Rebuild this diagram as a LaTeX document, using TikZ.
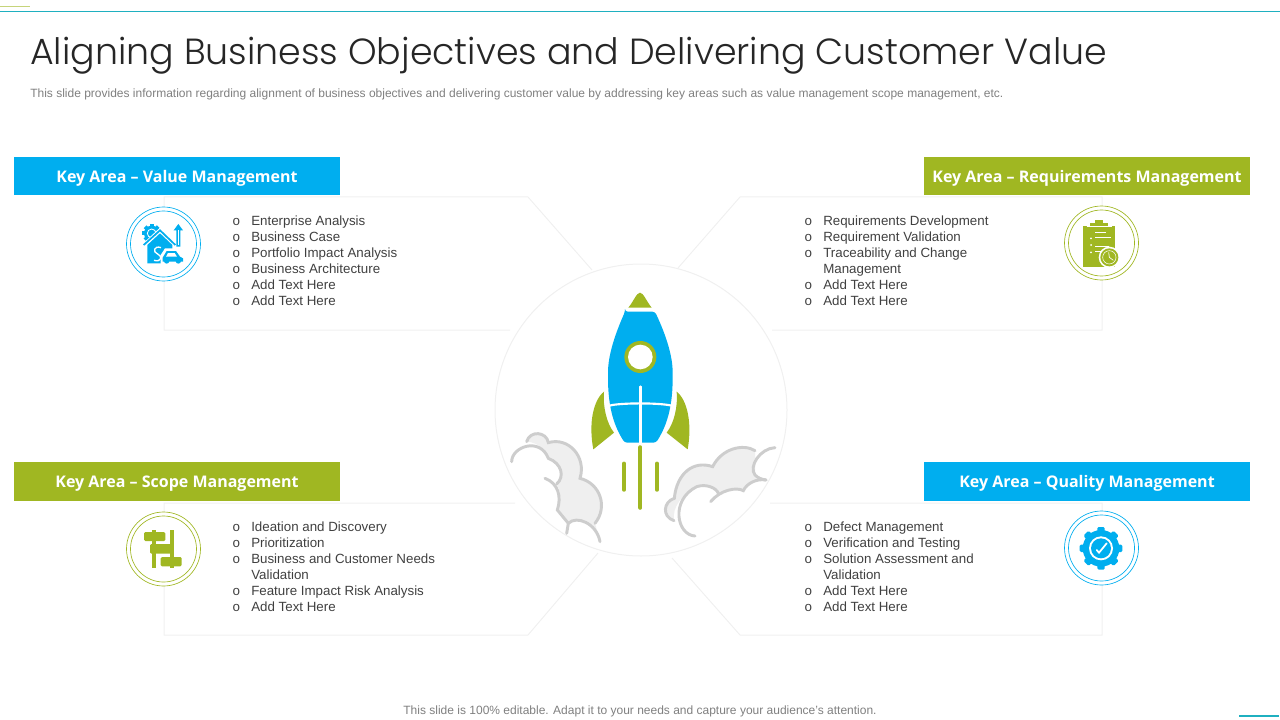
\documentclass[tikz,border=0pt]{standalone}
\usepackage{fontspec}
\setmainfont{Liberation Sans}
\newfontfamily\titlefont{Poppins}[UprightFont=* Light]
\newfontfamily\headfont{Open Sans}
\newfontfamily\bulletfont{Liberation Mono}
\definecolor{skyblue}{HTML}{00AEEF}
\definecolor{leafgreen}{HTML}{A0B722}
\definecolor{panelgray}{HTML}{F0F0F0}
\definecolor{cloudgray}{HTML}{CDCDCD}
\definecolor{cloudfill}{HTML}{EFEFEF}
\definecolor{tealline}{HTML}{1FB0C0}
\definecolor{lighttext}{HTML}{7F7F7F}
\definecolor{listtext}{HTML}{404040}
\newcommand\itm[1]{\bulletfont\fontsize{10}{12}\selectfont o&#1\\}
\newcommand\more[1]{&#1\\}
\newenvironment{keylist}{\fontsize{10}{12}\selectfont\renewcommand\arraystretch{1}\begin{tabular}{@{}p{14.25pt}@{}l@{}}}{\end{tabular}}
\tikzset{
  headbox/.style={minimum width=244.5pt,minimum height=29pt,inner sep=0pt,text=white,text depth=0pt,font=\headfont\bfseries\fontsize{12}{14}\selectfont},
  listbox/.style={anchor=north west,inner sep=0pt,text=listtext},
  panel/.style={draw=panelgray,line width=.75pt},
  ring/.style={draw=#1,line width=.5pt,fill=white},
  cloudline/.style={draw=cloudgray,line width=2.2pt,line cap=round,fill=none}
}
\begin{document}
\begin{tikzpicture}[x=.75pt,y=-.75pt]
\useasboundingbox (0,0) rectangle (1280,720);

% rules at the slide edges
\fill[tealline] (0,11) rectangle (1280,12);
\fill[leafgreen!60] (0,6) rectangle (30,7);
\fill[tealline] (1239,715) rectangle (1279,717);

\node (title) at (30,55.5) [anchor=west,inner sep=0pt,text=black!85] {\titlefont\fontsize{27.27}{32}\selectfont Aligning Business Objectives and Delivering Customer Value};
\node (subtitle) at (30,94) [anchor=west,inner sep=0pt,text=lighttext] {\fontsize{9}{11}\selectfont This slide provides information regarding alignment of business objectives and delivering customer value by addressing key areas such as value management scope management, etc.};
\node (footnote) at (640,711) [inner sep=0pt,text=lighttext] {\fontsize{9}{11}\selectfont This slide is 100\% editable. Adapt it to your needs and capture your audience's attention.};

% panels
\draw[panel] (510,330) -- (164,330) -- (164,197) -- (528,197) -- (592,270);
\draw[panel] (772,330) -- (1102,330) -- (1102,197) -- (740,197) -- (678,268);
\draw[panel] (515,503) -- (164,503) -- (164,635) -- (528,635) -- (598,553);
\draw[panel] (770,503) -- (1102,503) -- (1102,635) -- (740,635) -- (672,558);
\node (hub) at (641,410) [circle,draw=panelgray,line width=.75pt,fill=white,minimum size=219pt,inner sep=0pt] {};

\node (valuehead) at (177,176) [headbox,fill=skyblue] {Key Area – Value Management};
\node (reqhead) at (1087,176) [headbox,fill=leafgreen] {Key Area – Requirements Management};
\node (scopehead) at (177,481.5) [headbox,fill=leafgreen] {Key Area – Scope Management};
\node (qualityhead) at (1087,481.5) [headbox,fill=skyblue] {Key Area – Quality Management};

\node (valuelist) at (232,214) [listbox] {\begin{keylist}
\itm{Enterprise Analysis}
\itm{Business Case}
\itm{Portfolio Impact Analysis}
\itm{Business Architecture}
\itm{Add Text Here}
\itm{Add Text Here}
\end{keylist}};
\node (reqlist) at (804,214) [listbox] {\begin{keylist}
\itm{Requirements Development}
\itm{Requirement Validation}
\itm{Traceability and Change}
\more{Management}
\itm{Add Text Here}
\itm{Add Text Here}
\end{keylist}};
\node (scopelist) at (232,520) [listbox] {\begin{keylist}
\itm{Ideation and Discovery}
\itm{Prioritization}
\itm{Business and Customer Needs}
\more{Validation}
\itm{Feature Impact Risk Analysis}
\itm{Add Text Here}
\end{keylist}};
\node (qualitylist) at (804,520) [listbox] {\begin{keylist}
\itm{Defect Management}
\itm{Verification and Testing}
\itm{Solution Assessment and}
\more{Validation}
\itm{Add Text Here}
\itm{Add Text Here}
\end{keylist}};

% rings of the four icons
\foreach \cx/\cy/\col/\nm in {163.5/244/skyblue/value,1101.5/243/leafgreen/req,163.5/549/leafgreen/scope,1101.5/548/skyblue/quality}{
  \node (\nm ring) at (\cx,\cy) [circle,ring=\col,minimum size=55.5pt,inner sep=0pt] {};
  \node (\nm inner) at (\cx,\cy) [circle,ring=\col,minimum size=49.5pt,inner sep=0pt] {};
}

% rocket and clouds, in thirds of a pixel
\begin{scope}[shift={(480,260)},x=.25pt,y=-.25pt]
\fill[leafgreen] (445,143) .. controls (460,125) and (470,98) .. (480,98) .. controls (490,98) and (500,125) .. (515,143) -- cycle;
\fill[skyblue,rounded corners=2pt] (435,155) -- (525,155) .. controls (560,230) and (578,290) .. (578,345) .. controls (578,430) and (565,490) .. (528,548) -- (434,548) .. controls (397,490) and (384,430) .. (384,345) .. controls (384,290) and (402,230) .. (435,155) -- cycle;
\fill[leafgreen] (372,395) .. controls (340,420) and (325,490) .. (340,568) -- (402,518) .. controls (380,490) and (368,440) .. (372,395) -- cycle;
\fill[leafgreen] (590,395) .. controls (622,420) and (637,490) .. (623,568) -- (560,518) .. controls (582,490) and (594,440) .. (590,395) -- cycle;
\fill[leafgreen] (481,291) circle (48);
\fill[white] (481,291) circle (37);
\draw[white,line width=1.6pt] (388,437) .. controls (420,428) and (540,428) .. (575,437);
\draw[white,line width=2pt,line cap=round] (481,380) -- (481,548);
\draw[leafgreen,line width=3.2pt,line cap=round] (481,562) -- (481,743);
\draw[leafgreen,line width=2.6pt,line cap=round] (432,610) -- (432,690);
\draw[leafgreen,line width=2.6pt,line cap=round] (531,610) -- (531,690);
% left cloud
\fill[cloudfill] (140,545) .. controls (150,510) and (200,515) .. (205,548) .. controls (265,530) and (320,590) .. (300,655) .. controls (360,670) and (385,740) .. (345,790) -- (360,845) .. controls (350,790) and (290,765) .. (265,790) -- (232,750) .. controls (245,710) and (240,690) .. (230,672) .. controls (255,650) and (245,610) .. (205,595) .. controls (195,560) and (160,545) .. (140,545) -- cycle;
\draw[cloudline] (140,545) .. controls (150,510) and (200,515) .. (205,548) .. controls (265,530) and (320,590) .. (300,655) .. controls (360,670) and (385,740) .. (345,790);
\draw[cloudline] (95,605) .. controls (95,560) and (180,530) .. (205,595) .. controls (245,610) and (255,650) .. (230,672);
\draw[cloudline] (195,655) .. controls (235,670) and (245,710) .. (232,750) -- (265,790) -- (260,820);
\draw[cloudline] (265,790) .. controls (290,765) and (350,790) .. (360,845);
% right cloud
\fill[cloudfill] (825,572) .. controls (790,550) and (725,565) .. (698,620) .. controls (640,600) and (590,640) .. (583,715) .. controls (550,725) and (545,770) .. (582,782) .. controls (575,740) and (610,700) .. (650,680) .. controls (680,670) and (710,685) .. (715,700) -- (692,725) .. controls (720,690) and (770,680) .. (790,692) .. controls (800,670) and (830,655) .. (858,660) -- (825,645) -- cycle;
\draw[cloudline] (885,563) .. controls (840,565) and (805,620) .. (825,645) .. controls (835,655) and (845,658) .. (858,660);
\draw[cloudline] (825,572) .. controls (790,550) and (725,565) .. (698,620) .. controls (640,600) and (590,640) .. (583,715) .. controls (550,725) and (545,770) .. (582,782);
\draw[cloudline] (645,828) .. controls (590,825) and (570,720) .. (650,680) .. controls (680,670) and (710,685) .. (715,700);
\draw[cloudline] (692,725) .. controls (720,690) and (770,680) .. (790,692) .. controls (800,670) and (830,655) .. (858,660);
\end{scope}

% house icon
\begin{scope}[shift={(110,195)},x=.25pt,y=-.25pt]
\foreach \a in {0,45,...,315}
  \fill[skyblue,shift={(125,115)},rotate=\a] (-6,-28) rectangle (6,0);
\fill[skyblue] (125,115) circle (23);
\draw[white,line width=.6pt] (125,115) circle (13);
\fill[white] (92,152) -- (150,98) -- (205,152) -- cycle;
\fill[skyblue] (112,150) -- (150,115) -- (187,150) -- (187,165) -- (160,205) -- (112,205) -- cycle;
\draw[skyblue,line width=1.3pt] (101,150) -- (150,106) -- (196,150);
\fill[white] (152,210) -- (152,180) -- (165,160) -- (225,160) -- (225,210) -- cycle;
\draw[white,line width=1pt] (153,158) .. controls (132,150) and (127,172) .. (143,177) .. controls (158,182) and (155,203) .. (132,196);
\fill[skyblue] (158,200) -- (158,188) -- (170,168) -- (198,168) -- (210,185) -- (219,190) -- (219,200) -- cycle;
\fill[white] (174,174) -- (194,174) -- (201,185) -- (168,185) -- cycle;
\fill[skyblue] (170,198) circle (8);
\fill[skyblue] (205,198) circle (8);
\fill[skyblue] (205,87) -- (219,106) -- (211,106) -- (211,155) -- (199,155) -- (199,106) -- (191,106) -- cycle;
\draw[white,line width=.4pt] (205,105) -- (205,150);
\end{scope}

% clipboard icon
\begin{scope}[shift={(1050,195)},x=.25pt,y=-.25pt]
\fill[leafgreen] (100,92) rectangle (195,216);
\fill[leafgreen] (135,76) rectangle (160,90);
\fill[leafgreen] (120,84) rectangle (175,92);
\draw[white,line width=.4pt] (110,95) -- (185,95);
\foreach \y/\xb in {112/168,128/182,153/178,170/170}
  \draw[white,line width=.6pt] (135,\y) -- (\xb,\y);
\foreach \y in {130,150,172}
  \fill[white] (123,\y) circle (3);
\fill[white] (178,187) circle (32);
\fill[leafgreen] (178,187) circle (27);
\draw[white,line width=.4pt] (178,187) circle (20);
\draw[white,line width=.5pt] (176,172) -- (178,187) -- (190,196);
\end{scope}

% signpost icon
\begin{scope}[shift={(110,500)},x=.25pt,y=-.25pt]
\fill[leafgreen] (126,90) rectangle (137,203);
\fill[leafgreen] (181,90) rectangle (191,203);
\fill[leafgreen,rounded corners=1pt] (102,96) rectangle (166,123);
\fill[leafgreen,rounded corners=1pt] (120,132) rectangle (188,161);
\fill[leafgreen,rounded corners=1pt] (152,171) rectangle (215,199);
\end{scope}

% gear icon
\begin{scope}[shift={(1050,500)},x=.25pt,y=-.25pt]
\foreach \a in {0,45,...,315}
  \fill[skyblue,shift={(153,145)},rotate=\a,rounded corners=1pt] (-11,-64) rectangle (11,0);
\fill[skyblue] (153,145) circle (55);
\fill[white] (153,145) circle (36);
\fill[skyblue] (153,145) circle (30);
\draw[white,line width=1.3pt,line cap=round] (140,150) -- (147,158) -- (170,130);
\end{scope}
\end{tikzpicture}
\end{document}
